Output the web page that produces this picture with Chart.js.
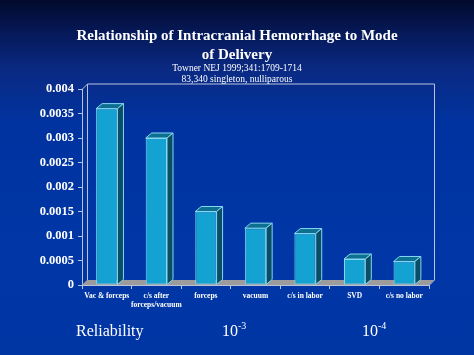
<!DOCTYPE html>
<html><head><meta charset="utf-8">
<script src="https://cdn.jsdelivr.net/npm/chart.js@4/dist/chart.umd.min.js"></script>
<style>
html,body{margin:0;padding:0;}
body{width:474px;height:355px;overflow:hidden;position:relative;
background:linear-gradient(to bottom,#020a2c 0%,#061a5c 10%,#0a2a84 20%,#0033a0 35%,#0036a6 70%,#0035a4 100%);
font-family:"Liberation Serif","Times New Roman",serif;color:#fff;}
#wrap{position:absolute;left:0;top:0;width:474px;height:355px;}
.t{position:absolute;left:0;width:474px;text-align:center;white-space:nowrap;}
#title{top:26px;font-weight:bold;font-size:15px;line-height:19px;}
#sub{top:63px;font-size:9.5px;line-height:10.5px;}
.b{position:absolute;top:322px;font-size:16px;white-space:nowrap;}
.b sup{font-size:10px;vertical-align:7px;line-height:0;}
</style></head><body>
<div id="wrap"><canvas id="c" width="474" height="355"></canvas></div>
<div class="t" id="title">Relationship of Intracranial Hemorrhage to Mode<br>of Delivery</div>
<div class="t" id="sub">Towner NEJ 1999;341:1709-1714<br>83,340 singleton, nulliparous</div>
<div class="b" style="left:76px">Reliability</div>
<div class="b" style="left:222px">10<sup>-3</sup></div>
<div class="b" style="left:362px">10<sup>-4</sup></div>
<script>
const categories = ["Vac & forceps", ["c/s after","forceps/vacuum"], "forceps", "vacuum", "c/s in labor", "SVD", "c/s no labor"];
const ichRates = [0.0036, 0.0030, 0.0015, 0.00116, 0.00105, 0.00053, 0.00048];
const yTicks = [0, 0.0005, 0.001, 0.0015, 0.002, 0.0025, 0.003, 0.0035, 0.004];

const DX = 6, DY = -5;
const wall3d = {
  id: 'wall3d',
  beforeDatasetsDraw(chart) {
    const ctx = chart.ctx, a = chart.chartArea;
    const wx = 5, wy = -5;
    ctx.save();
    ctx.fillStyle = '#9c9c9c';
    ctx.beginPath();
    ctx.moveTo(a.left, a.bottom);
    ctx.lineTo(a.left + wx, a.bottom + wy);
    ctx.lineTo(a.right + wx, a.bottom + wy);
    ctx.lineTo(a.right, a.bottom);
    ctx.closePath();
    ctx.fill();
    ctx.strokeStyle = '#b9c3dc';
    ctx.lineWidth = 1;
    ctx.beginPath();
    ctx.moveTo(a.left + 0.5, a.top);
    ctx.lineTo(a.left + wx + 0.5, a.top + wy);
    ctx.lineTo(a.right + wx + 0.5, a.top + wy);
    ctx.lineTo(a.right + wx + 0.5, a.bottom + wy);
    ctx.lineTo(a.right + 0.5, a.bottom);
    ctx.moveTo(a.left + wx + 0.5, a.top + wy);
    ctx.lineTo(a.left + wx + 0.5, a.bottom + wy);
    ctx.stroke();
    ctx.restore();
  },
  afterDatasetsDraw(chart) {
    const ctx = chart.ctx;
    const meta = chart.getDatasetMeta(0);
    ctx.save();
    ctx.lineWidth = 1;
    ctx.strokeStyle = '#86d8f2';
    meta.data.forEach(bar => {
      const p = bar.getProps(['x','y','base','width'], true);
      const x0 = p.x - p.width / 2, x1 = p.x + p.width / 2, y = p.y, b = p.base;
      ctx.fillStyle = '#0e7090';
      ctx.beginPath();
      ctx.moveTo(x0, y); ctx.lineTo(x0 + DX, y + DY); ctx.lineTo(x1 + DX, y + DY); ctx.lineTo(x1, y);
      ctx.closePath(); ctx.fill(); ctx.stroke();
      ctx.fillStyle = '#0a4e66';
      ctx.beginPath();
      ctx.moveTo(x1, y); ctx.lineTo(x1 + DX, y + DY); ctx.lineTo(x1 + DX, b + DY); ctx.lineTo(x1, b);
      ctx.closePath(); ctx.fill(); ctx.stroke();
    });
    ctx.restore();
  }
};

new Chart(document.getElementById('c'), {
  type: 'bar',
  data: {
    labels: categories,
    datasets: [{
      data: ichRates,
      backgroundColor: '#14a2d2',
      borderColor: '#86d8f2',
      borderWidth: 1,
      borderSkipped: false,
      barPercentage: 0.43,
      categoryPercentage: 1
    }]
  },
  options: {
    responsive: false,
    animation: false,
    devicePixelRatio: 1,
    layout: { padding: { left: 0, right: 45, top: 89, bottom: 0 } },
    plugins: { legend: { display: false }, tooltip: { enabled: false }, title: { display: false } },
    scales: {
      y: {
        min: 0, max: 0.004,
        afterFit(s) { s.width = 82; },
        afterBuildTicks(s) { s.ticks = yTicks.map(v => ({ value: v })); },
        ticks: {
          color: '#ffffff', padding: 4,
          font: { family: 'Liberation Serif', weight: 'bold', size: 12.5 },
          callback: v => String(v)
        },
        grid: { drawOnChartArea: false, color: '#b9c3dc', tickLength: 4 },
        border: { display: true, color: '#b9c3dc', width: 1 }
      },
      x: {
        afterFit(s) { s.height = 70; },
        ticks: {
          color: '#ffffff', padding: 3, maxRotation: 0, autoSkip: false,
          font: { family: 'Liberation Serif', weight: 'bold', size: 7.5, lineHeight: 1.2 }
        },
        grid: { drawOnChartArea: false, offset: true, color: '#b9c3dc', tickLength: 4 },
        border: { display: true, color: '#b9c3dc', width: 1 }
      }
    }
  },
  plugins: [wall3d]
});
</script>
</body></html>
